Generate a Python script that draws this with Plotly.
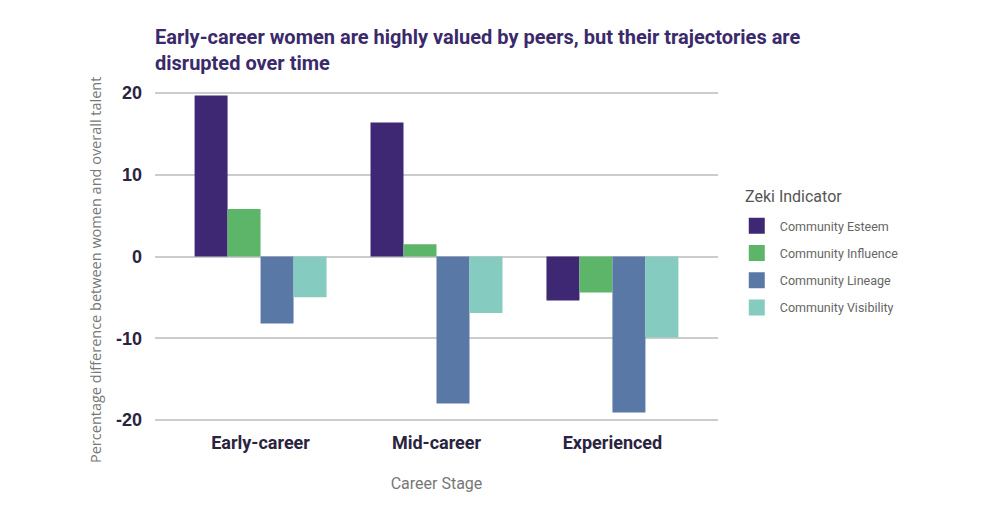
import plotly.graph_objects as go

stages = ["Early-career", "Mid-career", "Experienced"]
indicators = ["Community Esteem", "Community Influence", "Community Lineage", "Community Visibility"]
esteem = [19.7, 16.4, -5.4]
influence = [5.8, 1.5, -4.4]
lineage = [-8.2, -18.0, -19.1]
visibility = [-5.0, -6.9, -9.9]
colors = ["#3f2873", "#5db56a", "#5a78a6", "#86cbbf"]
y_ticks = [-20, -10, 0, 10, 20]
y_tick_text = [str(v) for v in y_ticks]

series = [esteem, influence, lineage, visibility]

fig = go.Figure()
for name, vals, col in zip(indicators, series, colors):
    fig.add_trace(go.Bar(x=stages, y=vals, name=name, showlegend=False,
                         marker=dict(color=col, line=dict(width=0))))
# legend entries with large square swatches
for i, (name, col) in enumerate(zip(indicators, colors)):
    fig.add_trace(go.Scatter(x=[None], y=[None], mode="markers", name=name,
                             legendgroup=f"g{i}",
                             marker=dict(symbol="square", size=22, color=col)))

fig.update_layout(
    width=1000, height=524,
    paper_bgcolor="white", plot_bgcolor="white",
    margin=dict(l=155, r=282, t=89, b=100),
    barmode="group", bargap=0.25, bargroupgap=0,
    title=dict(
        text="Early-career women are highly valued by peers, but their trajectories are<br>disrupted over time",
        x=155/1000, xanchor="left", y=1-44/524, yanchor="top",
        font=dict(family="Roboto", size=20, color="#3a2a6b", weight="bold"),
    ),
    legend=dict(
        font=dict(family="Roboto", size=12.5, color="#666666"),
        x=1.028, xanchor="left", y=(335-(211-89))/335, yanchor="top",
        tracegroupgap=8, itemwidth=36,
    ),
    xaxis=dict(
        range=[-0.6, 2.6], showgrid=False, zeroline=False, showline=False,
        ticks="", ticklabelstandoff=6,
        tickfont=dict(family="Roboto", size=18, color="#2a2440", weight="bold"),
        title=dict(text="Career Stage", font=dict(family="Roboto", size=16, color="#777777"), standoff=25),
    ),
    yaxis=dict(
        range=[-20.5, 20.5], tickvals=y_ticks, ticktext=y_tick_text,
        showgrid=True, gridcolor="#cccccc", gridwidth=1.5,
        zeroline=True, zerolinecolor="#cccccc", zerolinewidth=1.5, showline=False,
        ticks="", ticklabelstandoff=12,
        tickfont=dict(family="Liberation Sans", size=18, color="#2a2440", weight="bold"),
    ),
    annotations=[
        dict(
            text="Percentage difference between women and overall talent",
            xref="paper", yref="paper", x=-60/563, y=(524-100-270)/335, xanchor="center", yanchor="middle",
            textangle=-90, showarrow=False,
            font=dict(family="Open Sans", size=14.5, color="#777777"),
        ),
        dict(
            text="Zeki Indicator",
            xref="paper", yref="paper", x=(743-155)/563, y=(524-100-196)/335, xanchor="left", yanchor="middle",
            showarrow=False,
            font=dict(family="Roboto", size=16, color="#555555"),
        ),
    ],
)

fig.write_html("out.html")
